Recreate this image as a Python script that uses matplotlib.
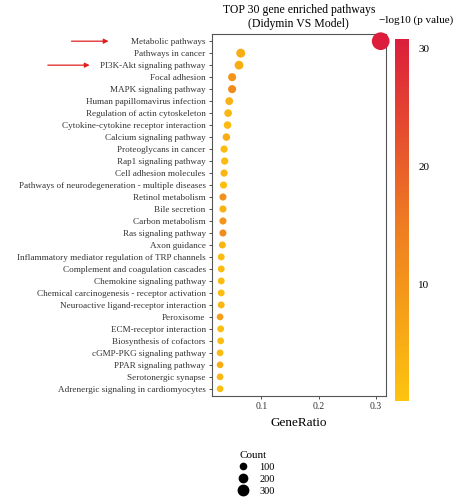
import matplotlib
matplotlib.use("Agg")
import matplotlib.pyplot as plt
from matplotlib.colors import LinearSegmentedColormap, Normalize
from matplotlib.lines import Line2D

plt.rcParams['font.family'] = ['Liberation Serif', 'DejaVu Serif']

pathways = ["Metabolic pathways","Pathways in cancer","PI3K-Akt signaling pathway","Focal adhesion",
"MAPK signaling pathway","Human papillomavirus infection","Regulation of actin cytoskeleton",
"Cytokine-cytokine receptor interaction","Calcium signaling pathway","Proteoglycans in cancer",
"Rap1 signaling pathway","Cell adhesion molecules","Pathways of neurodegeneration - multiple diseases",
"Retinol metabolism","Bile secretion","Carbon metabolism","Ras signaling pathway","Axon guidance",
"Inflammatory mediator regulation of TRP channels","Complement and coagulation cascades",
"Chemokine signaling pathway","Chemical carcinogenesis - receptor activation",
"Neuroactive ligand-receptor interaction","Peroxisome","ECM-receptor interaction",
"Biosynthesis of cofactors","cGMP-PKG signaling pathway","PPAR signaling pathway",
"Serotonergic synapse","Adrenergic signaling in cardiomyocytes"]
gene_ratio = [0.308,0.064,0.061,0.049,0.049,0.044,0.042,0.041,0.039,0.035,0.036,0.035,0.034,0.033,0.033,
0.033,0.033,0.032,0.030,0.030,0.030,0.030,0.030,0.028,0.029,0.029,0.028,0.028,0.028,0.028]
counts = [305,63,60,48,48,43,41,40,38,34,35,34,33,32,32,32,32,31,29,29,29,29,29,27,28,28,27,27,27,27]
neglogp = [31,5,5,10,12,4,3,2,5,2,2,3,1.5,11,4,10,12,3,2,2,2,1.5,3,8,1.5,1.5,2,5,3,1.5]
legend_counts = [100, 200, 300]

cmap = LinearSegmentedColormap.from_list("yr", ["#FDC40F", "#EE7A22", "#DC1E3C"])
norm = Normalize(0.1, 30.8)
def sz(c): return 10 + c*0.5

fig = plt.figure(figsize=(4.74, 5.0), dpi=100)
ax = fig.add_axes([0.447, 0.208, 0.367, 0.724])
y = list(range(len(pathways)))
ax.scatter(gene_ratio, y, s=[sz(c) for c in counts], c=neglogp, cmap=cmap, norm=norm,
           zorder=3, edgecolors='none', clip_on=False)
ax.set_ylim(len(pathways)-0.4, -0.6)
ax.set_xlim(0.0137, 0.317)
ax.set_yticks(y)
ax.set_yticklabels(pathways, fontsize=6.6)
ax.set_xticks([0.1,0.2,0.3])
ax.set_xticklabels(["0.1","0.2","0.3"], fontsize=7)
ax.tick_params(length=2.5, width=0.6, pad=2, colors='#333333')
for s in ax.spines.values():
    s.set_linewidth(0.8); s.set_color('#555555')
ax.set_xlabel("GeneRatio", fontsize=9.5)
ax.set_title("TOP 30 gene enriched pathways\n(Didymin VS Model)", fontsize=8.5, pad=5)

cax = fig.add_axes([0.833, 0.198, 0.030, 0.724])
sm = plt.cm.ScalarMappable(norm=norm, cmap=cmap)
cb = fig.colorbar(sm, cax=cax, ticks=[10,20,30])
cb.outline.set_visible(False)
cb.ax.tick_params(length=3, color='white', labelsize=8)
fig.text(0.80, 0.955, "\u2212log10 (p value)", fontsize=8)

handles = [Line2D([], [], marker='o', linestyle='none', color='black', markersize=ms, label=str(c))
           for c, ms in zip(legend_counts, [4.5, 6, 7.5])]
fig.legend(handles=handles, title="Count", loc='lower left', bbox_to_anchor=(0.47, -0.01),
           frameon=False, fontsize=7.5, title_fontsize=8, handletextpad=0.6, labelspacing=0.25)

for row, x0, x1 in [(0, 0.145, 0.235), (2, 0.095, 0.195)]:
    yy = ax.transData.transform((0, row))[1] / fig.bbox.height
    fig.patches.append(matplotlib.patches.FancyArrowPatch((x0, yy), (x1, yy), transform=fig.transFigure,
        arrowstyle='-|>', mutation_scale=7, color='#E02020', lw=0.9))

fig.savefig("out.png", dpi=100)
